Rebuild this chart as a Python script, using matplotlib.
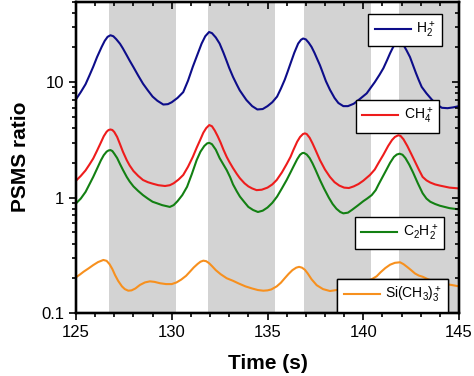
import matplotlib
matplotlib.use("Agg")
import matplotlib.pyplot as plt
from matplotlib.ticker import MultipleLocator, LogLocator, NullFormatter

plt.rcParams['font.family'] = ['Liberation Sans', 'DejaVu Sans']
plt.rcParams['mathtext.default'] = 'regular'

# gray bands (s)
bands = [(126.7, 130.2), (131.9, 135.4), (136.9, 140.4), (141.85, 145.0)]

# H2+
t_h2 = [125.0, 125.25, 125.5, 125.7, 125.9, 126.1, 126.34, 126.5, 126.65, 126.8,
        126.95, 127.1, 127.3, 127.45, 127.65, 127.8, 128.0, 128.25, 128.5, 128.75,
        129.0, 129.25, 129.56, 129.8, 130.0, 130.3, 130.6, 130.85, 131.1, 131.35,
        131.56, 131.75, 131.95, 132.1, 132.3, 132.5, 132.7, 132.85, 133.0, 133.2,
        133.4, 133.55, 133.75, 133.9, 134.2, 134.47, 134.75, 135.0, 135.25, 135.5,
        135.7, 135.9, 136.05, 136.2, 136.4, 136.6, 136.75, 136.86, 137.0, 137.15,
        137.3, 137.45, 137.6, 137.74, 137.9, 138.05, 138.26, 138.5, 138.7, 138.96,
        139.2, 139.5, 139.8, 140.18, 140.4, 140.6, 140.85, 141.05, 141.25, 141.4,
        141.55, 141.7, 141.83, 141.95, 142.1, 142.25, 142.44, 142.6, 142.75, 142.9,
        143.05, 143.3, 143.6, 143.85, 144.1, 144.4, 144.7, 145.0]
h2 = [7.1, 8.2, 9.6, 11.4, 13.6, 16.5, 20.2, 22.8, 24.7, 25.5,
      25.0, 23.6, 21.5, 19.6, 17.1, 15.4, 13.5, 11.4, 9.7, 8.5,
      7.5, 6.9, 6.4, 6.45, 6.7, 7.3, 8.2, 10.3, 13.6, 17.5,
      21.6, 25.0, 27.2, 26.6, 24.4, 21.6, 18.0, 15.5, 13.3, 11.1,
      9.5, 8.5, 7.6, 7.0, 6.2, 5.8, 5.85, 6.2, 6.7, 7.5,
      8.8, 10.5, 12.3, 14.5, 18.0, 21.6, 23.3, 23.9, 23.5, 22.0,
      20.2, 18.0, 15.8, 14.0, 11.9, 10.2, 8.6, 7.3, 6.6, 6.2,
      6.2, 6.5, 7.1, 8.0, 9.0, 10.0, 11.6, 13.2, 15.6, 17.8,
      20.0, 21.9, 22.8, 22.5, 21.0, 19.0, 16.5, 14.0, 12.0, 10.4,
      9.1, 8.0, 7.0, 6.4, 6.0, 5.95, 6.05, 6.2]

# CH4+
t_ch4 = [125.0, 125.25, 125.5, 125.7, 125.9, 126.1, 126.3, 126.45, 126.6, 126.7,
         126.8, 126.9, 127.0, 127.15, 127.3, 127.45, 127.65, 127.8, 128.0, 128.25,
         128.5, 128.75, 129.0, 129.3, 129.65, 129.9, 130.1, 130.35, 130.6, 130.85,
         131.1, 131.3, 131.5, 131.65, 131.8, 131.96, 132.1, 132.25, 132.4, 132.55,
         132.7, 132.87, 133.0, 133.2, 133.4, 133.56, 133.8, 134.0, 134.2, 134.43,
         134.7, 135.0, 135.25, 135.48, 135.75, 136.0, 136.2, 136.35, 136.55, 136.7,
         136.85, 136.95, 137.05, 137.2, 137.35, 137.5, 137.74, 138.0, 138.26, 138.5,
         138.75, 139.0, 139.25, 139.5, 139.75, 140.0, 140.35, 140.6, 140.8, 141.05,
         141.3, 141.5, 141.65, 141.83, 141.95, 142.1, 142.3, 142.5, 142.7, 142.9,
         143.1, 143.3, 143.5, 143.75, 144.0, 144.5, 145.0]
ch4 = [1.40, 1.54, 1.72, 1.93, 2.18, 2.55, 3.0, 3.4, 3.72, 3.85,
       3.89, 3.85, 3.7, 3.35, 2.9, 2.5, 2.11, 1.9, 1.7, 1.54,
       1.42, 1.36, 1.32, 1.28, 1.26, 1.28, 1.33, 1.43, 1.57, 1.85,
       2.25, 2.7, 3.2, 3.65, 4.0, 4.25, 4.15, 3.8, 3.4, 3.0,
       2.6, 2.25, 2.05, 1.8, 1.6, 1.47, 1.33, 1.25, 1.2, 1.16,
       1.17, 1.22, 1.3, 1.42, 1.65, 1.95, 2.25, 2.58, 3.05, 3.35,
       3.55, 3.6, 3.55, 3.3, 2.95, 2.6, 2.11, 1.75, 1.51, 1.36,
       1.27, 1.22, 1.21, 1.25, 1.31, 1.40, 1.57, 1.75, 2.0, 2.35,
       2.8, 3.15, 3.35, 3.47, 3.42, 3.2, 2.8, 2.4, 2.05, 1.75,
       1.51, 1.41, 1.35, 1.30, 1.27, 1.22, 1.20]

# C2H2+
t_c2h2 = [125.0, 125.25, 125.5, 125.7, 125.9, 126.1, 126.3, 126.45, 126.6, 126.7,
          126.8, 126.9, 127.0, 127.15, 127.3, 127.45, 127.65, 127.8, 128.0, 128.25,
          128.5, 128.75, 129.0, 129.25, 129.5, 129.9, 130.1, 130.3, 130.55, 130.8,
          131.05, 131.3, 131.5, 131.7, 131.85, 131.96, 132.1, 132.3, 132.5, 132.7,
          132.87, 133.05, 133.2, 133.4, 133.56, 133.8, 134.0, 134.25, 134.5, 134.75,
          135.0, 135.25, 135.5, 135.75, 136.0, 136.2, 136.35, 136.55, 136.7, 136.82,
          136.9, 137.05, 137.2, 137.35, 137.5, 137.74, 137.95, 138.2, 138.4, 138.6,
          138.8, 138.96, 139.2, 139.4, 139.7, 140.0, 140.2, 140.44, 140.65, 140.8,
          141.0, 141.2, 141.4, 141.6, 141.75, 141.9, 142.05, 142.2, 142.4, 142.6,
          142.85, 143.1, 143.3, 143.5, 143.75, 144.0, 144.5, 145.0]
c2h2 = [0.89, 0.98, 1.12, 1.3, 1.51, 1.78, 2.1, 2.33, 2.5, 2.56,
        2.58, 2.53, 2.4, 2.2, 1.95, 1.74, 1.51, 1.38, 1.25, 1.14,
        1.05, 0.98, 0.92, 0.89, 0.86, 0.83, 0.86, 0.93, 1.05, 1.24,
        1.6, 2.11, 2.5, 2.8, 2.95, 2.98, 2.9, 2.6, 2.2, 1.93,
        1.73, 1.5, 1.3, 1.13, 1.02, 0.91, 0.83, 0.78, 0.75, 0.77,
        0.82, 0.9, 1.02, 1.2, 1.42, 1.65, 1.85, 2.15, 2.35, 2.43,
        2.44, 2.36, 2.2, 1.98, 1.75, 1.42, 1.2, 1.0, 0.88, 0.8,
        0.75, 0.73, 0.74, 0.78, 0.85, 0.93, 0.98, 1.05, 1.16, 1.3,
        1.5, 1.73, 2.0, 2.25, 2.36, 2.4, 2.35, 2.2, 1.93, 1.65,
        1.33, 1.09, 0.98, 0.92, 0.88, 0.85, 0.81, 0.79]

# Si(CH3)3+
t_si = [125.0, 125.2, 125.4, 125.65, 125.9, 126.15, 126.43, 126.6, 126.75, 126.9,
        127.04, 127.2, 127.4, 127.55, 127.73, 127.9, 128.1, 128.34, 128.6, 128.86,
        129.1, 129.39, 129.7, 130.0, 130.25, 130.5, 130.75, 130.95, 131.15, 131.35,
        131.5, 131.65, 131.8, 131.95, 132.1, 132.3, 132.55, 132.87, 133.2, 133.5,
        133.85, 134.2, 134.5, 134.78, 135.0, 135.2, 135.48, 135.7, 135.9, 136.1,
        136.3, 136.5, 136.65, 136.8, 136.95, 137.1, 137.3, 137.57, 137.9, 138.26,
        138.6, 138.96, 139.3, 139.6, 140.0, 140.44, 140.7, 140.9, 141.15, 141.4,
        141.65, 141.92, 142.1, 142.3, 142.5, 142.7, 142.9, 143.1, 143.35, 143.6,
        143.85, 144.1, 144.6, 145.0]
si = [0.204, 0.215, 0.228, 0.243, 0.26, 0.276, 0.288, 0.283, 0.265, 0.24,
      0.213, 0.19, 0.17, 0.161, 0.156, 0.157, 0.163, 0.175, 0.184, 0.188,
      0.186, 0.181, 0.178, 0.178, 0.184, 0.195, 0.21, 0.228, 0.248, 0.266,
      0.278, 0.284, 0.281, 0.27, 0.255, 0.235, 0.217, 0.20, 0.19, 0.18,
      0.17, 0.163, 0.158, 0.156, 0.157, 0.16, 0.17, 0.183, 0.2, 0.218,
      0.235, 0.247, 0.251, 0.247, 0.237, 0.22, 0.196, 0.174, 0.161, 0.155,
      0.158, 0.163, 0.169, 0.175, 0.185, 0.196, 0.208, 0.225, 0.245, 0.262,
      0.272, 0.275, 0.265, 0.25, 0.235, 0.22, 0.211, 0.206, 0.197, 0.19,
      0.184, 0.18, 0.175, 0.17]

fig = plt.figure(figsize=(4.74, 3.76), dpi=100)
ax = fig.add_axes([0.1603, 0.1676, 0.8081, 0.8284])

for a, b in bands:
    ax.axvspan(a, b, color="#d3d3d3", lw=0, zorder=0)

series = [
    (t_h2, h2, "#0d0d8a", "H$_2^+$", (0.955, 0.96)),
    (t_ch4, ch4, "#ee1c1c", "CH$_4^+$", (0.948, 0.683)),
    (t_c2h2, c2h2, "#138013", "C$_2$H$_2^+$", (0.962, 0.309)),
    (t_si, si, "#f7901e", "Si(CH$_3$)$_3^+$", (0.972, 0.109)),
]

lines = []
for t, v, c, lab, pos in series:
    ln, = ax.plot(t, v, color=c, lw=1.5, zorder=2, solid_joinstyle="round")
    lines.append(ln)

ax.set_yscale("log")
ax.set_xlim(125, 145)
ax.set_ylim(0.1, 50)
ax.xaxis.set_major_locator(MultipleLocator(5))
ax.xaxis.set_minor_locator(MultipleLocator(1))
ax.set_yticks([0.1, 1, 10])
ax.set_yticklabels(["0.1", "1", "10"])
ax.yaxis.set_minor_locator(LogLocator(base=10, subs=range(2, 10)))
ax.yaxis.set_minor_formatter(NullFormatter())
ax.tick_params(which="both", direction="out", labelsize=12, width=1.2)
ax.tick_params(which="major", length=5)
ax.tick_params(which="minor", length=3)
for s in ax.spines.values():
    s.set_linewidth(1.6)

# inward ticks on top and right
axt = ax.twiny()
axt.set_xlim(ax.get_xlim())
axt.xaxis.set_major_locator(MultipleLocator(5))
axt.xaxis.set_minor_locator(MultipleLocator(1))
axt.tick_params(which="both", direction="in", labeltop=False, width=1.2)
axt.tick_params(which="major", length=5)
axt.tick_params(which="minor", length=3)
axr = ax.twinx()
axr.set_yscale("log")
axr.set_ylim(ax.get_ylim())
axr.set_yticks([0.1, 1, 10])
axr.yaxis.set_minor_locator(LogLocator(base=10, subs=range(2, 10)))
axr.tick_params(which="both", direction="in", labelright=False, width=1.2)
axr.tick_params(which="major", length=5)
axr.tick_params(which="minor", length=3)
for a2 in (axt, axr):
    for s in a2.spines.values():
        s.set_linewidth(1.6)

ax.set_xlabel("Time (s)", fontsize=15, fontweight="bold", labelpad=10)
ax.set_ylabel("PSMS ratio", fontsize=15, fontweight="bold", labelpad=8)

for ln, (t, v, c, lab, pos) in zip(lines, series):
    leg = axr.legend([ln], [lab], loc="upper right", bbox_to_anchor=pos,
                     bbox_transform=ax.transAxes, borderaxespad=0,
                     fontsize=10, frameon=True, fancybox=False, framealpha=1,
                     edgecolor="black", handlelength=2.6, handletextpad=0.4,
                     borderpad=0.45)
    leg.get_frame().set_linewidth(1.0)
    axr.add_artist(leg)

fig.savefig("out.png", dpi=100)
